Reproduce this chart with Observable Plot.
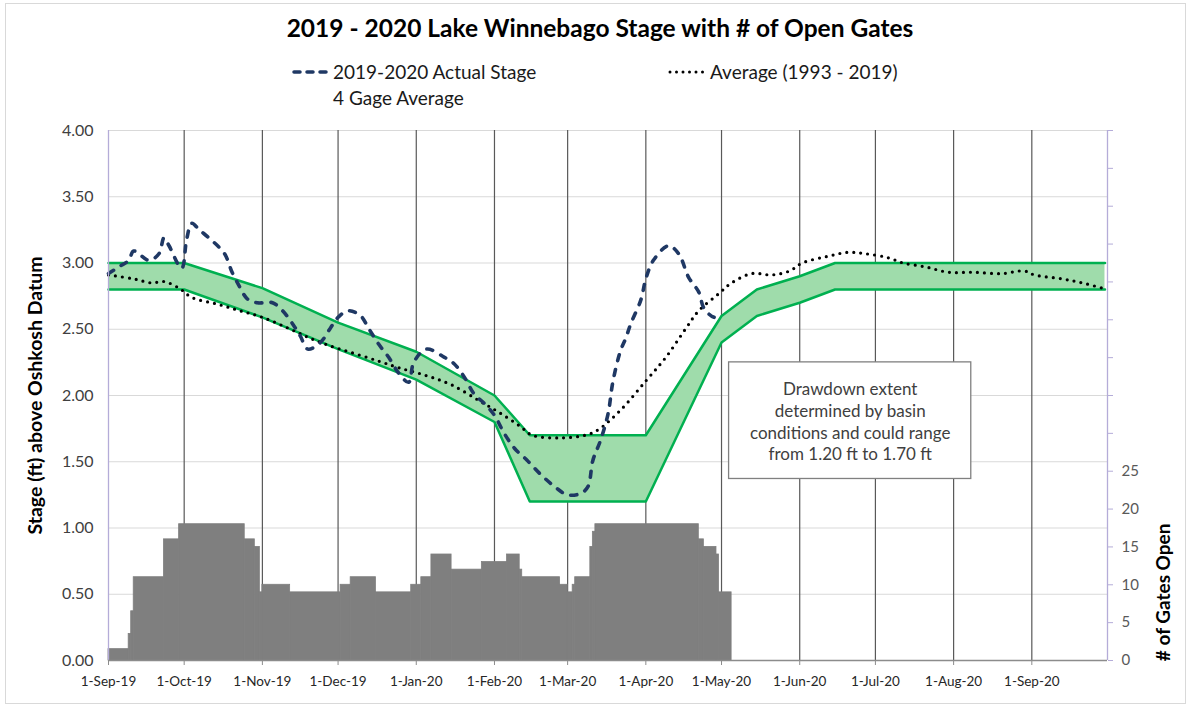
<!DOCTYPE html>
<html>
<head>
<meta charset="utf-8">
<script src="https://cdn.jsdelivr.net/npm/d3@7"></script>
<script src="https://cdn.jsdelivr.net/npm/@observablehq/plot@0.6"></script>
<style>
  body { margin: 0; background: #fff; font-family: Lato, "Open Sans", "DejaVu Sans", sans-serif; }
  #wrap { position: relative; width: 1200px; height: 713px; overflow: hidden; background: #fff; }
  #border { position: absolute; left: 5px; top: 3px; width: 1179px; height: 699px; border: 1px solid #d9d9d9; pointer-events: none; }
  #head { position: relative; width: 1200px; height: 115px; }
  #title { position: absolute; top: 13px; left: 0; width: 1200px; text-align: center; font-weight: bold; font-size: 24.5px; color: #000; }
  .leg { position: absolute; font-size: 19px; color: #1a1a1a; line-height: 22px; white-space: nowrap; }
  .sw { position: absolute; }
  #chart svg { display: block; }
</style>
</head>
<body>
<div id="wrap">
  <div id="head">
    <div id="title">2019 - 2020 Lake Winnebago Stage with # of Open Gates</div>
    <svg class="sw" style="left:292px;top:64px" width="40" height="16">
      <line x1="2" y1="8" x2="38" y2="8" stroke="#1f3864" stroke-width="3.5" stroke-dasharray="6,7" stroke-linecap="round"/>
    </svg>
    <div class="leg" style="left:333px;top:61px">2019-2020 Actual Stage</div>
    <div class="leg" style="left:333px;top:87px">4 Gage Average</div>
    <svg class="sw" style="left:667px;top:64px" width="44" height="16">
      <line x1="3" y1="8" x2="41" y2="8" stroke="#000" stroke-width="3" stroke-dasharray="0,6.5" stroke-linecap="round"/>
    </svg>
    <div class="leg" style="left:710px;top:61px">Average (1993 - 2019)</div>
  </div>
  <div id="chart"></div>
  <div id="border"></div>
</div>
<script>
// Lake stage (ft above Oshkosh Datum), 4-gage average, 2019-2020
const stageDates = [
  "2019-09-01","2019-09-05","2019-09-09","2019-09-11","2019-09-17","2019-09-21","2019-09-23","2019-09-25",
  "2019-09-30","2019-10-02","2019-10-04","2019-10-07","2019-10-12","2019-10-17","2019-10-20","2019-10-23",
  "2019-10-26","2019-10-30","2019-11-05","2019-11-09","2019-11-13","2019-11-16","2019-11-19","2019-11-24",
  "2019-11-28","2019-12-01","2019-12-05","2019-12-10","2019-12-13","2019-12-17","2019-12-21","2019-12-25",
  "2019-12-29","2019-12-31","2020-01-05","2020-01-12","2020-01-16","2020-01-20","2020-01-24","2020-01-28",
  "2020-02-01","2020-02-05","2020-02-09","2020-02-14","2020-02-19","2020-02-25","2020-03-01","2020-03-06",
  "2020-03-09","2020-03-11","2020-03-14","2020-03-17","2020-03-19","2020-03-22","2020-03-24","2020-03-26",
  "2020-03-30","2020-04-01","2020-04-04","2020-04-10","2020-04-14","2020-04-18","2020-04-22","2020-04-24",
  "2020-04-28","2020-05-01"
];
const stageValues = [
  2.92, 2.97, 3.02, 3.09, 3.02, 3.07, 3.19, 3.13,
  2.96, 3.18, 3.30, 3.25, 3.17, 3.07, 2.93, 2.82,
  2.73, 2.70, 2.70, 2.64, 2.54, 2.45, 2.35, 2.40,
  2.51, 2.59, 2.64, 2.60, 2.51, 2.39, 2.29, 2.17,
  2.10, 2.25, 2.35, 2.29, 2.24, 2.14, 2.01, 1.94,
  1.85, 1.71, 1.60, 1.51, 1.41, 1.31, 1.25, 1.26,
  1.31, 1.51, 1.66, 1.86, 2.11, 2.34, 2.43, 2.54,
  2.72, 2.88, 3.02, 3.13, 3.07, 2.89, 2.78, 2.66,
  2.59, 2.60
];

// Long-term average stage, 1993 - 2019
const avgDates = [
  "2019-09-01","2019-09-11","2019-09-18","2019-09-23","2019-09-29","2019-10-04","2019-10-14","2019-10-23",
  "2019-11-01","2019-11-11","2019-11-19","2019-11-27","2019-12-07","2019-12-17","2019-12-25","2020-01-05",
  "2020-01-15","2020-01-26","2020-02-03","2020-02-11","2020-02-16","2020-02-27","2020-03-08","2020-03-13",
  "2020-03-22","2020-04-01","2020-04-09","2020-04-17","2020-04-22","2020-04-30","2020-05-05","2020-05-13",
  "2020-05-21","2020-05-28","2020-06-02","2020-06-12","2020-06-20","2020-06-27","2020-07-06","2020-07-12",
  "2020-07-21","2020-07-30","2020-08-09","2020-08-20","2020-08-29","2020-09-02","2020-09-13","2020-09-21",
  "2020-09-29"
];
const avgValues = [
  2.91, 2.88, 2.85, 2.86, 2.81, 2.74, 2.69, 2.64,
  2.59, 2.51, 2.44, 2.38, 2.32, 2.26, 2.21, 2.15,
  2.08, 1.96, 1.87, 1.77, 1.70, 1.68, 1.70, 1.74,
  1.89, 2.11, 2.29, 2.51, 2.64, 2.77, 2.85, 2.92,
  2.91, 2.94, 3.00, 3.05, 3.08, 3.07, 3.04, 3.00,
  2.97, 2.93, 2.93, 2.92, 2.94, 2.91, 2.88, 2.85,
  2.81
];

// Target operating band (lower / upper limits)
const bandDates = ["2019-09-01","2019-10-01","2019-11-01","2019-12-01","2020-01-01","2020-02-01","2020-02-15",
                   "2020-04-01","2020-05-01","2020-05-15","2020-06-01","2020-06-15","2020-09-30"];
const bandLow  = [2.80, 2.80, 2.59, 2.35, 2.12, 1.80, 1.20, 1.20, 2.40, 2.60, 2.70, 2.80, 2.80];
const bandHigh = [3.00, 3.00, 2.81, 2.55, 2.33, 2.00, 1.70, 1.70, 2.60, 2.80, 2.90, 3.00, 3.00];

// Number of open gates: date each count took effect, and the count
const gateDates = [
  "2019-09-01","2019-09-09","2019-09-10","2019-09-11","2019-09-23","2019-09-29","2019-10-25","2019-10-29",
  "2019-10-31","2019-11-01","2019-11-12","2019-12-02","2019-12-06","2019-12-16","2019-12-30","2020-01-03",
  "2020-01-07","2020-01-15","2020-01-27","2020-02-06","2020-02-11","2020-02-12","2020-02-27","2020-03-01",
  "2020-03-03","2020-03-04","2020-03-10","2020-03-11","2020-03-12","2020-04-22","2020-04-24","2020-04-29",
  "2020-04-30"
];
const gateCounts = [
  1.5, 3.5, 6.5, 11, 16, 18, 16, 15,
  9, 10, 9, 10, 11, 9, 10, 11,
  14, 12, 13, 14, 12, 11, 10, 9,
  10, 11, 15, 17, 18, 16, 15, 14,
  9
];
const gateEnd = "2020-05-05";

// Axis ticks
const monthTicks = ["2019-09-01","2019-10-01","2019-11-01","2019-12-01","2020-01-01","2020-02-01","2020-03-01",
                    "2020-04-01","2020-05-01","2020-06-01","2020-07-01","2020-08-01","2020-09-01"];
const stageTicks = [0, 0.5, 1, 1.5, 2, 2.5, 3, 3.5, 4];
const gateTicks = [0, 5, 10, 15, 20, 25, 30, 35, 40, 45, 50, 55, 60, 65, 70];
const gateLabelTicks = [0, 5, 10, 15, 20, 25];

const noteText = "Drawdown extent\ndetermined by basin\nconditions and could range\nfrom 1.20 ft to 1.70 ft";

// ---- build tables ----
const D = s => new Date(s + "T00:00:00Z");
const xStart = D("2019-09-01"), xEnd = D("2020-10-01");
const gateMax = 70, stageMax = 4;
const g2s = g => g * stageMax / gateMax;   // gate count on the right axis -> stage units

const stage = stageDates.map((d, i) => ({date: D(d), value: stageValues[i]}));
const avg = avgDates.map((d, i) => ({date: D(d), value: avgValues[i]}));
const band = bandDates.map((d, i) => ({date: D(d), low: bandLow[i], high: bandHigh[i]}));
const gates = gateDates.map((d, i) => ({
  start: D(d),
  end: D(i + 1 < gateDates.length ? gateDates[i + 1] : gateEnd),
  count: gateCounts[i]
}));
const months = monthTicks.map(D);
const note = [{x1: D("2020-05-04"), x2: D("2020-08-08"), y1: 1.37, y2: 2.25, text: noteText}];

const axisColor = "#b4acd8";
const font = "Lato, 'Open Sans', 'DejaVu Sans', sans-serif";

const chart = Plot.plot({
  width: 1200,
  height: 598,
  marginTop: 15,
  marginBottom: 53,
  marginLeft: 108,
  marginRight: 93,
  style: {fontFamily: font, fontSize: "14px", color: "#404040", background: "transparent", overflow: "visible"},
  x: {type: "utc", domain: [xStart, xEnd]},
  y: {domain: [0, stageMax]},
  marks: [
    // gridlines
    Plot.ruleY(stageTicks.slice(1), {stroke: "#d9d9d9", strokeWidth: 1}),
    Plot.ruleX(months.slice(1), {y1: 0, y2: stageMax, stroke: "#595959", strokeWidth: 1.2}),
    // open gates (right axis)
    Plot.rectY(gates, {x1: "start", x2: "end", y1: 0, y2: d => g2s(d.count), fill: "#7f7f7f",
      stroke: "#7f7f7f", strokeWidth: 0.8}),
    // target band
    Plot.areaY(band, {x: "date", y1: "low", y2: "high", fill: "#9fdcab"}),
    Plot.lineY(band, {x: "date", y: "low", stroke: "#00b050", strokeWidth: 2.5}),
    Plot.lineY(band, {x: "date", y: "high", stroke: "#00b050", strokeWidth: 2.5}),
    // note box
    Plot.rect(note, {x1: "x1", x2: "x2", y1: "y1", y2: "y2", fill: "white", stroke: "#808080", strokeWidth: 1.3}),
    Plot.text(note, {x: d => new Date((+d.x1 + +d.x2) / 2), y: d => (d.y1 + d.y2) / 2, text: "text",
      fontSize: 17, lineHeight: 1.28, fill: "#404040", fontFamily: font}),
    // average stage
    Plot.lineY(avg, {x: "date", y: "value", stroke: "#000", strokeWidth: 3.2, strokeDasharray: "0,7",
      strokeLinecap: "round", curve: "catmull-rom"}),
    // actual stage
    Plot.lineY(stage, {x: "date", y: "value", stroke: "#1f3864", strokeWidth: 3.6, strokeDasharray: "6,9",
      strokeLinecap: "round", curve: "catmull-rom"}),
    // axes
    Plot.ruleX([xStart], {y1: 0, y2: stageMax, stroke: axisColor, strokeWidth: 1.3}),
    Plot.ruleX([xEnd], {y1: 0, y2: stageMax, stroke: axisColor, strokeWidth: 1.3}),
    Plot.ruleY([0], {stroke: "#8c8c8c", strokeWidth: 1.3}),
    Plot.axisY(stageTicks, {anchor: "left", tickSize: 0, tickPadding: 15, tickFormat: d3.format(".2f"),
      fontSize: 16, fill: "#404040", label: "Stage (ft) above Oshkosh Datum", labelAnchor: "center",
      labelOffset: 80, labelArrow: "none"}),
    Plot.axisY(gateTicks.map(g2s), {anchor: "right", tickSize: 5, stroke: axisColor, tickFormat: () => "", label: null}),
    Plot.axisY(gateLabelTicks.map(g2s), {anchor: "right", tickSize: 0, tickPadding: 14, fontSize: 15,
      fill: "#595959", tickFormat: d => Math.round(d * gateMax / stageMax), label: null}),
    Plot.axisX(months, {anchor: "bottom", tickSize: 5, stroke: "#8c8c8c", tickPadding: 11,
      tickFormat: d3.utcFormat("%-d-%b-%y"), fontSize: 13.5, fill: "#262626", label: null}),
    Plot.text(["# of Gates Open"], {x: xEnd, y: g2s(9), dx: 56, rotate: -90, fontSize: 19,
      fontWeight: "bold", fill: "#000", fontFamily: font})
  ]
});

// Bold, dark y-axis title
chart.querySelectorAll("text").forEach(t => {
  if (t.textContent === "Stage (ft) above Oshkosh Datum") {
    t.setAttribute("font-weight", "bold");
    t.setAttribute("font-size", "19.5");
    t.setAttribute("fill", "#000");
  }
});
document.getElementById("chart").appendChild(chart);
</script>
</body>
</html>
